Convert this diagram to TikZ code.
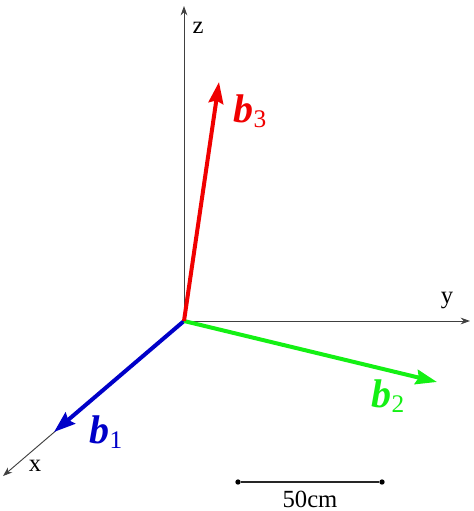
\documentclass[tikz,border=0pt]{standalone}
\usepackage{fontspec}
\setmainfont{Liberation Serif}
\usetikzlibrary{arrows.meta}
\definecolor{bone}{RGB}{0,0,200}
\definecolor{btwo}{RGB}{20,240,20}
\definecolor{bthree}{RGB}{240,0,0}
\newcommand{\bvec}[1]{\textbf{\textit{b}}\raisebox{-0.3ex}{\fontsize{19}{19}\selectfont #1}}

\begin{document}
\begin{tikzpicture}[x=0.75pt,y=-0.75pt,
  axis/.style={draw=black!75, line width=0.7pt, -{Stealth[length=7pt,width=5pt]}},
  basis/.style={line width=3pt, -{Stealth[length=16pt,width=11pt,inset=2pt]}},
  axislabel/.style={font=\fontsize{18.5}{18.5}\selectfont},
  veclabel/.style={font=\fontsize{30}{30}\selectfont},
  bardot/.style={circle, fill=black, inner sep=0pt, minimum size=4pt}]
\useasboundingbox (0,0) rectangle (474,511);
\coordinate (o) at (184,321);
% axes
\coordinate (xend) at (3,476);
\coordinate (yend) at (470,321);
\coordinate (zend) at (184,6);
\draw[axis] (o) -- (xend);
\draw[axis] (o) -- (yend);
\draw[axis] (o) -- (zend);
\node[axislabel] (xlab) at (35,466) {x};
\node[axislabel] (ylab) at (447,300) {y};
\node[axislabel] (zlab) at (198,28) {z};
% basis vectors
\coordinate (b1) at (54,432);
\coordinate (b2) at (437,382);
\coordinate (b3) at (219,82);
\draw[basis, bone] (o) -- (b1);
\draw[basis, btwo] (o) -- (b2);
\draw[basis, bthree] (o) -- (b3);
\node[veclabel, text=bone] (b1lab) at (106,432) {\bvec{1}};
\node[veclabel, text=btwo] (b2lab) at (388,396) {\bvec{2}};
\node[veclabel, text=bthree] (b3lab) at (250,111) {\bvec{3}};
% scale bar
\node[bardot] (s1) at (238,482) {};
\node[bardot] (s2) at (382,482) {};
\draw[line width=1.1pt, black!85] (s1) -- (s2);
\node[axislabel] (slab) at (310,499) {50cm};
\end{tikzpicture}
\end{document}
